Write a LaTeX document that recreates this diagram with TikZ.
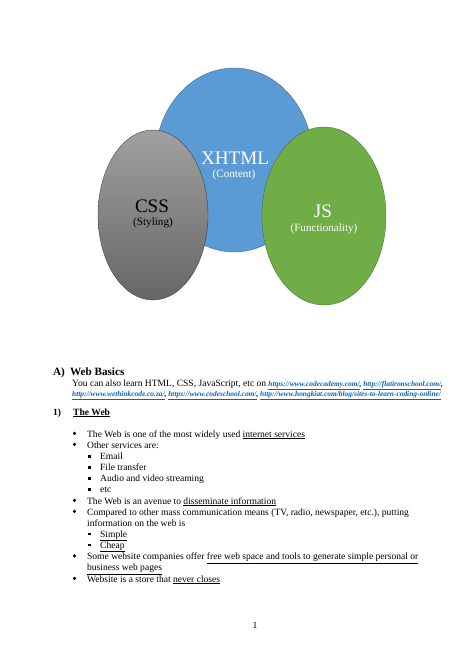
\documentclass[tikz,border=0pt]{standalone}
\usepackage{fontspec}
\setmainfont{Liberation Serif}
\definecolor{xblue}{HTML}{5B9BD5}
\definecolor{xgreen}{HTML}{70AD47}
\definecolor{graytop}{HTML}{A0A0A0}
\definecolor{graybot}{HTML}{666666}
\definecolor{linkblue}{HTML}{0563C1}
\newcommand{\lnk}[1]{\textcolor{linkblue}{\underline{#1}}}
\tikzset{
  big/.style={inner sep=0, anchor=base, font=\fontsize{24}{28}\selectfont},
  small/.style={inner sep=0, anchor=base, font=\fontsize{14}{16}\selectfont},
  body/.style={inner sep=0, anchor=base west, font=\fontsize{12}{14}\selectfont},
  head/.style={inner sep=0, anchor=base west, font=\fontsize{14}{16}\selectfont\bfseries},
  headb/.style={inner sep=0, anchor=base west, font=\fontsize{12}{14}\selectfont\bfseries},
  url/.style={inner sep=0, anchor=base west, font=\fontsize{9.3}{11}\selectfont\bfseries\itshape},
  sq/.style={fill=black},
  dot/.style={fill=black},
}
\begin{document}
\begin{tikzpicture}[x=1.256pt, y=-1.256pt]
\useasboundingbox (0,0) rectangle (474,669);
\fill[white] (0,0) rectangle (474,669);
% Venn ellipses
\draw[fill=xblue, draw=xblue!60!black, line width=0.4pt] (234,160) ellipse [x radius=79, y radius=92];
\draw[top color=graytop, bottom color=graybot, draw=black!80, line width=0.4pt] (153,215) ellipse [x radius=55, y radius=85];
\draw[fill=xgreen, draw=xgreen!60!black, line width=0.4pt] (324,216) ellipse [x radius=62, y radius=89];
% labels
\node[big, white] (xhtml) at (235,164) {XHTML};
\node[small, white] (content) at (234,177) {(Content)};
\node[big, black] (css) at (152,212) {CSS};
\node[small, black] (styling) at (153,225) {(Styling)};
\node[big, white] (js) at (323,217) {JS};
\node[small, white] (func) at (324,231) {(Functionality)};
% text
\node[head] (a) at (53,375) {A)};
\node[head] (wb) at (70,375) {Web Basics};
\node[body] (learn) at (72,386) {You can also learn HTML, CSS, JavaScript, etc on};
\node[url, anchor=base west] (u1) at (learn.base east) {\ \lnk{https://www.codecademy.com/}\textcolor{black}{,} \lnk{http://flatironschool.com/}\textcolor{black}{,}};
\node[url] (u2) at (72,396) {\lnk{http://www.wethinkcode.co.za/}\textcolor{black}{,} \lnk{https://www.codeschool.com/}\textcolor{black}{,} \lnk{http://www.hongkiat.com/blog/sites-to-learn-coding-online/}};
\node[headb] (n1) at (53,415) {1)};
\node[headb] (tw) at (73,415) {\underline{The Web}};
% bullets
\fill[dot] (74.5,433.3) circle (1.7);
\node[body] (t0) at (87,437) {The Web is one of the most widely used \underline{internet services}};
\fill[dot] (74.5,444.3) circle (1.7);
\node[body] (t1) at (87,448) {Other services are:};
\fill[sq] (87.7,455) rectangle +(2.8,2.8);
\node[body] (t2) at (100,459.5) {Email};
\fill[sq] (87.7,466) rectangle +(2.8,2.8);
\node[body] (t3) at (100,470.5) {File transfer};
\fill[sq] (87.7,477) rectangle +(2.8,2.8);
\node[body] (t4) at (100,481.5) {Audio and video streaming};
\fill[sq] (87.7,488) rectangle +(2.8,2.8);
\node[body] (t5) at (100,492.5) {etc};
\fill[dot] (74.5,500.3) circle (1.7);
\node[body] (t6) at (87,504) {The Web is an avenue to \underline{disseminate information}};
\fill[dot] (74.5,511.3) circle (1.7);
\node[body] (t7) at (87,515) {Compared to other mass communication means (TV, radio, newspaper, etc.), putting};
\node[body] (t8) at (87,526) {information on the web is};
\fill[sq] (87.7,532.5) rectangle +(2.8,2.8);
\node[body] (t9) at (100,537) {\underline{Simple}};
\fill[sq] (87.7,543.5) rectangle +(2.8,2.8);
\node[body] (t10) at (100,548) {\underline{Cheap}};
\fill[dot] (74.5,555.8) circle (1.7);
\node[body] (t11) at (87,559.5) {Some website companies offer \underline{free web space and tools to generate simple personal or}};
\node[body] (t12) at (87,570.5) {\underline{business web pages}};
\fill[dot] (74.5,578.3) circle (1.7);
\node[body] (t13) at (87,582) {Website is a store that \underline{never closes}};
\node[body, anchor=base] (pg) at (255,628) {1};
\end{tikzpicture}
\end{document}
